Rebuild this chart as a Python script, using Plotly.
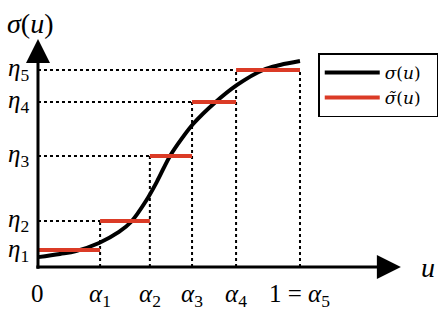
import plotly.graph_objects as go

# breakpoints on u axis and quantization levels
alpha = [0.237, 0.427, 0.588, 0.756, 1.0]
eta = [0.065, 0.176, 0.424, 0.630, 0.752]
alpha_labels = ["<i>α</i><sub>1</sub>", "<i>α</i><sub>2</sub>", "<i>α</i><sub>3</sub>",
                "<i>α</i><sub>4</sub>", "1 = <i>α</i><sub>5</sub>"]
eta_labels = ["<i>η</i><sub>1</sub>", "<i>η</i><sub>2</sub>", "<i>η</i><sub>3</sub>",
              "<i>η</i><sub>4</sub>", "<i>η</i><sub>5</sub>"]

# sigmoid curve
curve_u = [0.0, 0.084, 0.145, 0.233, 0.309, 0.355, 0.412, 0.454, 0.504, 0.553,
           0.592, 0.676, 0.760, 0.859, 0.924, 1.0]
curve_s = [0.038, 0.050, 0.061, 0.092, 0.134, 0.172, 0.252, 0.326, 0.424, 0.496,
           0.546, 0.628, 0.695, 0.752, 0.771, 0.786]

FONT = "Liberation Serif, DejaVu Serif, serif"
RED = "#db3b26"

fig = go.Figure()

# dashed guide lines
dx, dy = [], []
starts = [0.0] + alpha[:-1]
for i in range(1, 5):
    dx += [0, starts[i], None]
    dy += [eta[i], eta[i], None]
for i in range(5):
    top = eta[i + 1] if i < 4 else eta[4]
    dx += [alpha[i], alpha[i], None]
    dy += [0, top, None]
fig.add_trace(go.Scatter(x=dx, y=dy, mode="lines", showlegend=False,
                         line=dict(color="black", width=2, dash="3px,3px"),
                         hoverinfo="skip"))

# step approximation
sx, sy = [], []
for i in range(5):
    sx += [starts[i], alpha[i], None]
    sy += [eta[i], eta[i], None]

fig.add_trace(go.Scatter(x=curve_u, y=curve_s, mode="lines",
                         name="<i>σ</i>(<i>u</i>)\u00a0\u00a0",
                         line=dict(color="black", width=4, shape="spline", smoothing=1.0)))
fig.add_trace(go.Scatter(x=sx, y=sy, mode="lines",
                         name="<i>σ\u0303</i>(<i>u</i>)\u00a0\u00a0",
                         line=dict(color=RED, width=4)))

# axes with arrows
fig.add_annotation(x=0, y=0.87, ax=0, ay=-0.012, xref="x", yref="y", axref="x", ayref="y",
                   showarrow=True, arrowhead=2, arrowsize=1.6, arrowwidth=3, arrowcolor="black", text="")
fig.add_annotation(x=1.385, y=0, ax=-0.012, ay=0, xref="x", yref="y", axref="x", ayref="y",
                   showarrow=True, arrowhead=2, arrowsize=1.6, arrowwidth=3, arrowcolor="black", text="")

tf = dict(family=FONT, size=25, color="black")
fig.add_annotation(x=0, y=-0.04, text="0", showarrow=False, yanchor="top", font=tf)
for a, lab in zip(alpha, alpha_labels):
    fig.add_annotation(x=a, y=-0.04, text=lab, showarrow=False, yanchor="top", font=tf)
for e, lab in zip(eta, eta_labels):
    fig.add_annotation(x=-0.025, y=e, text=lab, showarrow=False, xanchor="right", font=tf)
fig.add_annotation(x=-0.03, y=0.931, text="<i>σ</i>(<i>u</i>)", showarrow=False,
                   xanchor="center", yanchor="middle", font=dict(family=FONT, size=28, color="black"))
fig.add_annotation(x=1.489, y=0.0, text="<i>u</i>", showarrow=False,
                   xanchor="center", yanchor="middle", font=dict(family=FONT, size=28, color="black"))

fig.update_layout(
    width=442, height=314, margin=dict(l=0, r=0, t=0, b=0),
    paper_bgcolor="white", plot_bgcolor="white",
    xaxis=dict(range=[-0.145, 1.542], visible=False, fixedrange=True),
    yaxis=dict(range=[-0.179, 1.019], visible=False, fixedrange=True),
    legend=dict(x=0.72, y=0.83, xanchor="left", yanchor="top",
                bordercolor="black", borderwidth=1.5, bgcolor="white",
                font=dict(family="DejaVu Serif, serif", size=17, color="black"),
                itemwidth=55, tracegroupgap=0),
    showlegend=True,
)

fig.write_html("out.html", config={"displayModeBar": False},
               post_script="document.body.style.margin='0';")
